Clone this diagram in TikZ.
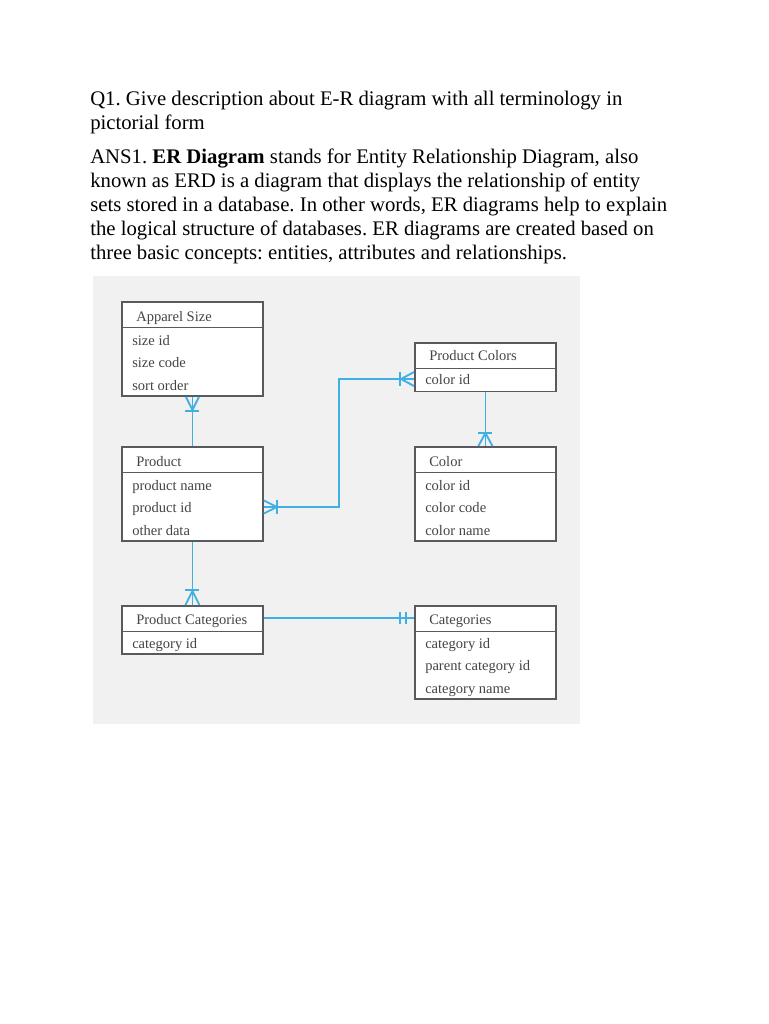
\documentclass[tikz,border=0pt]{standalone}
\usepackage{fontspec}
\setmainfont{Liberation Serif}
\usetikzlibrary{calc}
\definecolor{erblue}{RGB}{64,176,228}
\definecolor{bggray}{RGB}{241,241,241}
\definecolor{boxgray}{RGB}{88,90,94}
\definecolor{txtgray}{RGB}{68,68,70}
\frenchspacing
\tikzset{
  maintext/.style={anchor=base west, inner sep=0pt, font=\fontsize{15.55}{18}\selectfont},
  ent/.style={draw=boxgray, line width=1.4pt, fill=white, anchor=north west, inner sep=0pt, rectangle},
  divline/.style={draw=boxgray, line width=1.4pt},
  etext/.style={anchor=base west, inner sep=0pt, text=txtgray, font=\fontsize{10.9}{12}\selectfont},
  conn/.style={draw=erblue, line width=1.4pt},
}
\begin{document}
\begin{tikzpicture}[x=0.75pt,y=-0.75pt]
\useasboundingbox (0,0) rectangle (768,1024);
\fill[white] (0,0) rectangle (768,1024);

% main text
\node[maintext] (t1) at (90,105.5) {Q1. Give description about E-R diagram with all terminology in};
\node[maintext] (t2) at (90,129.5) {pictorial form};
\node[maintext] (t3) at (90,163) {ANS1. \textbf{ER Diagram} stands for Entity Relationship Diagram, also};
\node[maintext] (t4) at (90,187) {known as ERD is a diagram that displays the relationship of entity};
\node[maintext] (t5) at (90,211) {sets stored in a database. In other words, ER diagrams help to explain};
\node[maintext] (t6) at (90,235) {the logical structure of databases. ER diagrams are created based on};
\node[maintext] (t7) at (90,259) {three basic concepts: entities, attributes and relationships.};

% background panel
\fill[bggray] (93,276) rectangle (580,724);

% entities
\node[ent, minimum width=105.75pt, minimum height=70.5pt] (app) at (121,301) {};
\node[ent, minimum width=105.75pt, minimum height=36.4pt] (pcol) at (414,342) {};
\node[ent, minimum width=105.75pt, minimum height=70.5pt] (prod) at (121,446) {};
\node[ent, minimum width=105.75pt, minimum height=70.5pt] (col) at (414,446) {};
\node[ent, minimum width=105.75pt, minimum height=36pt] (pcat) at (121,605) {};
\node[ent, minimum width=105.75pt, minimum height=70pt] (cat) at (414,605) {};

% header dividers
\foreach \n in {app,pcol,prod,col,pcat,cat}{
  \draw[divline] ($(\n.north west)+(0,26.5)$) -- ($(\n.north east)+(0,26.5)$);
}

% entity texts
\node[etext] (app0) at (136,321) {Apparel Size};
\node[etext] (app1) at (132,345) {size id};
\node[etext] (app2) at (132,367.5) {size code};
\node[etext] (app3) at (132,390) {sort order};

\node[etext] (pcol0) at (429,360) {Product Colors};
\node[etext] (pcol1) at (425,384.5) {color id};

\node[etext] (prod0) at (136,466) {Product};
\node[etext] (prod1) at (132,490) {product name};
\node[etext] (prod2) at (132,512.5) {product id};
\node[etext] (prod3) at (132,535) {other data};

\node[etext] (col0) at (429,466) {Color};
\node[etext] (col1) at (425,490) {color id};
\node[etext] (col2) at (425,512.5) {color code};
\node[etext] (col3) at (425,535) {color name};

\node[etext] (pcat0) at (136,624) {Product Categories};
\node[etext] (pcat1) at (132,648) {category id};

\node[etext] (cat0) at (429,624) {Categories};
\node[etext] (cat1) at (425,648) {category id};
\node[etext] (cat2) at (425,670.5) {parent category id};
\node[etext] (cat3) at (425,693) {category name};

% connectors
\draw[conn] (app.south) -- (prod.north);
\draw[conn] (pcol.south) -- (col.north);
\draw[conn] (prod.south) -- (pcat.north);
\draw[conn] ($(prod.north east)+(0,61)$) -- ++(75,0) |- ($(pcol.north west)+(0,37)$);
\draw[conn] ($(pcat.north east)+(0,13)$) -- ($(cat.north west)+(0,13)$);

% crow's feet: Apparel Size (many)
\draw[conn] ($(app.south)+(-6.5,0)$) -- ($(app.south)+(0,13)$) -- ($(app.south)+(6.5,0)$);
\draw[conn] ($(app.south)+(-7,14)$) -- ($(app.south)+(7,14)$);
% Color (many)
\draw[conn] ($(col.north)+(-7,0)$) -- ($(col.north)+(0,-13)$) -- ($(col.north)+(7,0)$);
\draw[conn] ($(col.north)+(-7,-13)$) -- ($(col.north)+(7,-13)$);
% Product Categories (many)
\draw[conn] ($(pcat.north)+(-7,0)$) -- ($(pcat.north)+(0,-14)$) -- ($(pcat.north)+(7,0)$);
\draw[conn] ($(pcat.north)+(-7,-15)$) -- ($(pcat.north)+(7,-15)$);
% Product end of product-colors link (many)
\draw[conn] ($(prod.north east)+(0,54.5)$) -- ($(prod.north east)+(13,61)$) -- ($(prod.north east)+(0,67.5)$);
\draw[conn] ($(prod.north east)+(13,54)$) -- ($(prod.north east)+(13,68)$);
% Product Colors end (many)
\draw[conn] ($(pcol.north west)+(0,30)$) -- ($(pcol.north west)+(-13,37)$) -- ($(pcol.north west)+(0,44)$);
\draw[conn] ($(pcol.north west)+(-14,30)$) -- ($(pcol.north west)+(-14,44)$);
% Categories end (one and only one)
\draw[conn] ($(cat.north west)+(-14,7)$) -- ($(cat.north west)+(-14,19)$);
\draw[conn] ($(cat.north west)+(-8,7)$) -- ($(cat.north west)+(-8,19)$);
\end{tikzpicture}
\end{document}
